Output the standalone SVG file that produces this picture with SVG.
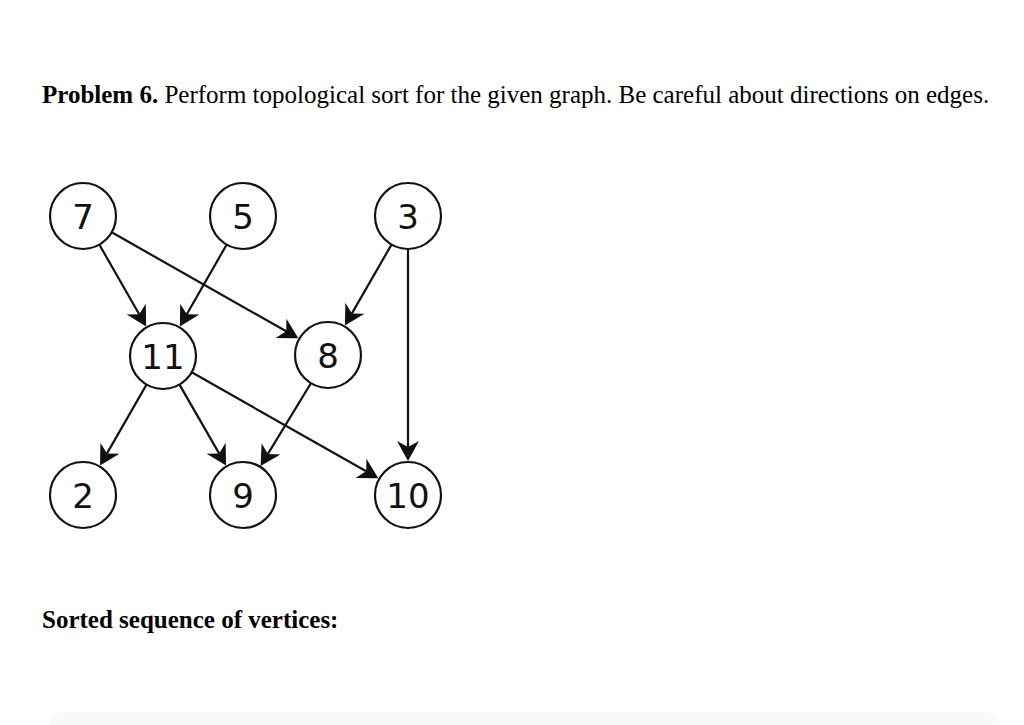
<svg xmlns="http://www.w3.org/2000/svg" width="1024" height="725" viewBox="0 0 1024 725">
<style>
.title{font-family:"Liberation Serif","Times New Roman",serif;font-size:25px;fill:#000}
.b{font-weight:bold}
.node circle{fill:#fff;stroke:#111;stroke-width:2.2}
.node text{font-family:"DejaVu Sans",Verdana,sans-serif;font-size:34px;fill:#111;text-anchor:middle}
.edges line{stroke:#111;stroke-width:2.2;marker-end:url(#arr)}
</style>
<defs>
<marker id="arr" viewBox="-22 -12 23 24" markerWidth="23" markerHeight="24" refX="-10" refY="0" orient="auto" markerUnits="userSpaceOnUse">
<path d="M0,0 L-20,-11 L-14,0 L-20,11 Z" fill="#111"/>
</marker>
</defs>
<rect width="1024" height="725" fill="#fff"/>
<rect x="50" y="712" width="950" height="30" rx="12" fill="#f9f9f9"/>
<text class="title" x="42" y="103"><tspan class="b">Problem 6.</tspan> Perform topological sort for the given graph. Be careful about directions on edges.</text>
<text class="title b" x="42" y="628">Sorted sequence of vertices:</text>
<g class="edges">
<line x1="99.4" y1="244.7" x2="141.2" y2="317.8"/>
<line x1="111.7" y1="232.3" x2="289.7" y2="333.3"/>
<line x1="226.6" y1="244.7" x2="184.8" y2="317.8"/>
<line x1="391.5" y1="244.6" x2="349.9" y2="316.9"/>
<line x1="408" y1="249" x2="408" y2="451"/>
<line x1="146.5" y1="384.6" x2="105.0" y2="456.9"/>
<line x1="179.5" y1="384.6" x2="221.1" y2="456.9"/>
<line x1="191.7" y1="372.3" x2="369.7" y2="473.3"/>
<line x1="310.9" y1="383.2" x2="265.8" y2="457.4"/>
</g>
<g id="n7" class="node"><circle cx="83" cy="216" r="33"/><text x="83" y="229">7</text></g>
<g id="n5" class="node"><circle cx="243" cy="216" r="33"/><text x="243" y="229">5</text></g>
<g id="n3" class="node"><circle cx="408" cy="216" r="33"/><text x="408" y="229">3</text></g>
<g id="n11" class="node"><circle cx="163" cy="356" r="33"/><text x="163" y="369">11</text></g>
<g id="n8" class="node"><circle cx="328" cy="355" r="33"/><text x="328" y="368">8</text></g>
<g id="n2" class="node"><circle cx="83" cy="495" r="33"/><text x="83" y="508">2</text></g>
<g id="n9" class="node"><circle cx="243" cy="495" r="33"/><text x="243" y="508">9</text></g>
<g id="n10" class="node"><circle cx="408" cy="495" r="33"/><text x="408" y="508">10</text></g>
</svg>
